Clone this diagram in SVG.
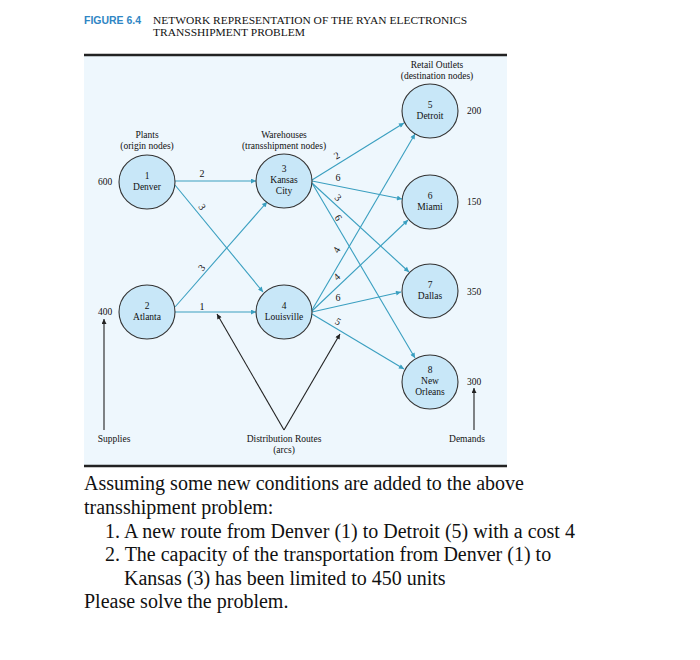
<svg xmlns="http://www.w3.org/2000/svg" width="700" height="660" viewBox="0 0 700 660">
<style>
.lbl{font-family:"Liberation Serif","Times New Roman",serif;font-size:9.5px;fill:#111;text-anchor:middle}
.num{font-family:"Liberation Serif","Times New Roman",serif;font-size:10px;fill:#111;text-anchor:middle}
.node{fill:#c8e7f8;stroke:#333;stroke-width:1.1}
.edge{stroke:#3a9fc0;stroke-width:1.1;fill:none;marker-end:url(#ah)}
.blk{stroke:#222;stroke-width:1.1;fill:none;marker-end:url(#bh)}
.body{font-family:"Liberation Serif","Times New Roman",serif;font-size:20px;fill:#111}
</style>
<defs>
<marker id="ah" viewBox="0 0 10 10" refX="10" refY="5" markerWidth="7" markerHeight="5" markerUnits="userSpaceOnUse" orient="auto"><path d="M0,0 L10,5 L0,10 z" fill="#3a9fc0"/></marker>
<marker id="bh" viewBox="0 0 10 10" refX="10" refY="5" markerWidth="7" markerHeight="5" markerUnits="userSpaceOnUse" orient="auto"><path d="M0,0 L10,5 L0,10 z" fill="#222"/></marker>
</defs>
<rect width="700" height="660" fill="#fff"/>
<text x="84" y="24" font-family="Liberation Sans,Arial,sans-serif" font-weight="bold" font-size="10.5" fill="#2f86c4" textLength="57" lengthAdjust="spacingAndGlyphs">FIGURE 6.4</text>
<text x="153" y="24" font-family="Liberation Serif,serif" font-size="10.5" fill="#111" textLength="314" lengthAdjust="spacingAndGlyphs">NETWORK REPRESENTATION OF THE RYAN ELECTRONICS</text>
<text x="153" y="36" font-family="Liberation Serif,serif" font-size="10.5" fill="#111" textLength="152" lengthAdjust="spacingAndGlyphs">TRANSSHIPMENT PROBLEM</text>
<rect x="84" y="56" width="423" height="409" fill="#eef7fd"/>
<line x1="84" y1="55" x2="507" y2="55" stroke="#222" stroke-width="2.5"/>
<line x1="84" y1="466" x2="507" y2="466" stroke="#222" stroke-width="2.5"/>

<text class="lbl" x="147" y="138">Plants</text>
<text class="lbl" x="147" y="149">(origin nodes)</text>
<text class="lbl" x="284" y="138">Warehouses</text>
<text class="lbl" x="284" y="149">(transshipment nodes)</text>
<text class="lbl" x="437" y="68">Retail Outlets</text>
<text class="lbl" x="437" y="79">(destination nodes)</text>

<g id="connectors">
<line class="edge" x1="175" y1="181" x2="256" y2="181"/>
<line class="edge" x1="175" y1="185" x2="263" y2="292"/>
<line class="edge" x1="175" y1="307" x2="267" y2="202"/>
<line class="edge" x1="175" y1="312" x2="256" y2="312"/>
<line class="edge" x1="312" y1="180" x2="404" y2="123"/>
<line class="edge" x1="312" y1="181" x2="402" y2="199"/>
<line class="edge" x1="312" y1="183" x2="409" y2="272"/>
<line class="edge" x1="312" y1="183" x2="415" y2="358"/>
<line class="edge" x1="312" y1="310" x2="415" y2="134"/>
<line class="edge" x1="312" y1="311" x2="408" y2="220"/>
<line class="edge" x1="312" y1="312" x2="401" y2="292"/>
<line class="edge" x1="312" y1="314" x2="404" y2="369"/>
<g class="num">
<text x="202" y="177">2</text>
<text x="202" y="210" transform="rotate(55 202 207)">3</text>
<text x="202" y="271" transform="rotate(-52 202 268)">3</text>
<text x="202" y="310">1</text>
<text x="337" y="159" transform="rotate(-30 337 156)">2</text>
<text x="338" y="181">6</text>
<text x="338" y="201" transform="rotate(45 338 198)">3</text>
<text x="338" y="221" transform="rotate(60 338 218)">6</text>
<text x="337" y="253" transform="rotate(-60 337 250)">4</text>
<text x="337" y="280" transform="rotate(-43 337 277)">4</text>
<text x="338" y="301">6</text>
<text x="338" y="325" transform="rotate(30 338 322)">5</text>
</g>
<line class="blk" x1="104" y1="430" x2="104" y2="319"/>
<line class="blk" x1="474" y1="430" x2="474" y2="388"/>
<line class="blk" x1="284" y1="430" x2="217" y2="314"/>
<line class="blk" x1="284" y1="430" x2="340" y2="334"/>
</g>

<g id="n1"><ellipse class="node" cx="147" cy="182" rx="28" ry="27"/><text class="lbl" x="147" y="179">1</text><text class="lbl" x="147" y="190">Denver</text></g>
<g id="n2"><ellipse class="node" cx="147" cy="312" rx="28" ry="27"/><text class="lbl" x="147" y="309">2</text><text class="lbl" x="147" y="320">Atlanta</text></g>
<g id="n3"><ellipse class="node" cx="284" cy="181" rx="28" ry="27"/><text class="lbl" x="284" y="172">3</text><text class="lbl" x="284" y="183">Kansas</text><text class="lbl" x="284" y="194">City</text></g>
<g id="n4"><ellipse class="node" cx="284" cy="312" rx="28" ry="27"/><text class="lbl" x="284" y="309">4</text><text class="lbl" x="284" y="320">Louisville</text></g>
<g id="n5"><ellipse class="node" cx="430" cy="111" rx="28" ry="27"/><text class="lbl" x="430" y="108">5</text><text class="lbl" x="430" y="119">Detroit</text></g>
<g id="n6"><ellipse class="node" cx="430" cy="202" rx="28" ry="27"/><text class="lbl" x="430" y="199">6</text><text class="lbl" x="430" y="210">Miami</text></g>
<g id="n7"><ellipse class="node" cx="430" cy="291" rx="28" ry="27"/><text class="lbl" x="430" y="288">7</text><text class="lbl" x="430" y="299">Dallas</text></g>
<g id="n8"><ellipse class="node" cx="430" cy="382" rx="28" ry="27"/><text class="lbl" x="430" y="373">8</text><text class="lbl" x="430" y="384">New</text><text class="lbl" x="430" y="395">Orleans</text></g>

<text class="lbl" x="105" y="185">600</text>
<text class="lbl" x="105" y="315">400</text>
<text class="lbl" x="474" y="114">200</text>
<text class="lbl" x="474" y="205">150</text>
<text class="lbl" x="474" y="295">350</text>
<text class="lbl" x="474" y="385">300</text>
<text class="lbl" x="114" y="442">Supplies</text>
<text class="lbl" x="284" y="442">Distribution Routes</text>
<text class="lbl" x="284" y="453">(arcs)</text>
<text class="lbl" x="467" y="442">Demands</text>

<text class="body" x="84" y="490">Assuming some new conditions are added to the above</text>
<text class="body" x="84" y="514">transshipment problem:</text>
<text class="body" x="105" y="538">1. A new route from Denver (1) to Detroit (5) with a cost 4</text>
<text class="body" x="105" y="561">2. The capacity of the transportation from Denver (1) to</text>
<text class="body" x="124" y="585">Kansas (3) has been limited to 450 units</text>
<text class="body" x="84" y="608">Please solve the problem.</text>
</svg>
